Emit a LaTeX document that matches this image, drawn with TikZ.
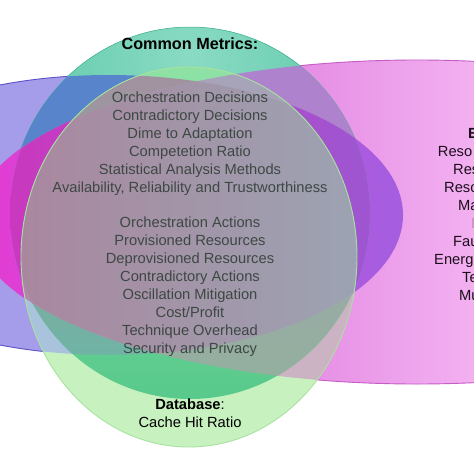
\documentclass[tikz,border=0pt]{standalone}
\usepackage{fontspec}
\setmainfont{Liberation Sans}
\definecolor{cA}{HTML}{A59DE9}
\definecolor{cBl}{HTML}{E283E1}
\definecolor{cBr}{HTML}{F3B2F1}
\definecolor{cTin}{HTML}{8ADBC3}
\definecolor{cTout}{HTML}{4FC3A0}
\definecolor{cG}{HTML}{C8F1C0}
\definecolor{cABl}{HTML}{E23DD3}
\definecolor{cABr}{HTML}{A35FE0}
\definecolor{cAT}{HTML}{5784CB}
\definecolor{cAG}{HTML}{A9C3DC}
\definecolor{cBT}{HTML}{AF82CD}
\definecolor{cBG}{HTML}{CBB3C3}
\definecolor{cTGt}{HTML}{8FE2A5}
\definecolor{cTGb}{HTML}{57C98B}
\definecolor{cATGt}{HTML}{A3919F}
\definecolor{cATGb}{HTML}{6FB4A4}
\definecolor{cBTGt}{HTML}{A8A2BB}
\definecolor{cBTGb}{HTML}{92B09C}
\definecolor{cABG}{HTML}{B08AA8}
\definecolor{cCl}{HTML}{A9879F}
\definecolor{cCr}{HTML}{9CA3B2}
\definecolor{txtc}{HTML}{3D4843}
\definecolor{rtxt}{HTML}{1C0F1C}
\definecolor{lnA}{HTML}{5A50C8}
\definecolor{lnB}{HTML}{C65CC6}
\definecolor{lnT}{HTML}{44B090}
\definecolor{lnG}{HTML}{A8E2A0}
\begin{document}
\begin{tikzpicture}[x=1pt,y=-1pt,
  lbl/.style={inner sep=0pt, anchor=base, text=txtc, font=\fontsize{14.7}{18}\selectfont},
  blk/.style={inner sep=0pt, anchor=base, text=black, font=\fontsize{14.7}{18}\selectfont},
  ttl/.style={inner sep=0pt, anchor=base, text=black, font=\bfseries\fontsize{16.2}{19}\selectfont},
  rlbl/.style={inner sep=0pt, anchor=base west, text=rtxt, font=\fontsize{14.7}{18}\selectfont},
  edgeline/.style={line width=0.9pt}]
\def\pA{(109,215) ellipse [x radius=294, y radius=140]}
\def\pB{(417,222) ellipse [x radius=444, y radius=162]}
\def\pT{(190,213) ellipse [x radius=180, y radius=186]}
\def\pG{(189,257) ellipse [x radius=168, y radius=190]}
\useasboundingbox (0,0) rectangle (474,474);
\fill[white] (0,0) rectangle (474,474);
\clip (0,0) rectangle (474,474);
% singles, each with its outline (later fills cover the inner parts)
\fill[cA] \pA;
\draw[edgeline, lnA] \pA;
\fill[cBl] \pB;
\begin{scope}\clip \pB; \shade[left color=cBl, right color=cBr] (250,0) rectangle (480,474);\end{scope}
\draw[edgeline, lnB] \pB;
\fill[cTout] \pT;
\begin{scope}\clip \pT; \shade[inner color=cTin, outer color=cTout] (190,55) circle (250);\end{scope}
\draw[line width=0.5pt, lnT] \pT;
\fill[cG] \pG;
% pairs
\begin{scope}\clip \pA; \clip \pB; \shade[left color=cABl, right color=cABr] (-10,0) rectangle (410,474);\end{scope}
\begin{scope}\clip \pA; \clip \pT; \fill[cAT] (0,0) rectangle (474,474);\end{scope}
\begin{scope}\clip \pA; \clip \pG; \fill[cAG] (0,0) rectangle (474,474);\end{scope}
\begin{scope}\clip \pB; \clip \pT; \fill[cBT] (0,0) rectangle (474,474);\end{scope}
\begin{scope}\clip \pB; \clip \pG; \fill[cBG] (0,0) rectangle (474,474);\end{scope}
\begin{scope}\clip \pT; \clip \pG; \shade[top color=cTGt, bottom color=cTGb] (0,60) rectangle (474,405);\end{scope}
% triples
\begin{scope}\clip \pA; \clip \pB; \clip \pT; \shade[left color=cABl!90!black, right color=cABr!94!black] (-10,0) rectangle (410,474);\end{scope}
\begin{scope}\clip \pA; \clip \pB; \clip \pG; \fill[cABG] (0,0) rectangle (474,474);\end{scope}
\begin{scope}\clip \pA; \clip \pT; \clip \pG; \shade[top color=cATGt, bottom color=cATGb] (0,70) rectangle (474,356);\end{scope}
\begin{scope}\clip \pB; \clip \pT; \clip \pG; \shade[top color=cBTGt, bottom color=cBTGb] (0,65) rectangle (474,396);\end{scope}
% quadruple
\begin{scope}\clip \pA; \clip \pB; \clip \pT; \clip \pG; \shade[left color=cCl, right color=cCr] (20,0) rectangle (360,474);\end{scope}
% outline of the Database circle, visible over everything
\draw[line width=0.9pt, lnG] \pG;
% texts
\node[ttl] (title) at (190,49) {Common Metrics:};
\foreach \t [count=\i] in {Orchestration Decisions, Contradictory Decisions, Dime to Adaptation, Competetion Ratio, Statistical Analysis Methods, {Availability, Reliability and Trustworthiness}}
  \node[lbl] (cm\i) at (190,{102.3+18*(\i-1)}) {\t};
\foreach \t [count=\i] in {Orchestration Actions, Provisioned Resources, Deprovisioned Resources, Contradictory Actions, Oscillation Mitigation, Cost/Profit, Technique Overhead, Security and Privacy}
  \node[lbl] (ca\i) at (190,{227.7+18*(\i-1)}) {\t};
\node[blk] (db) at (190,409) {\textbf{Database}:};
\node[blk] (dbm) at (190,427) {Cache Hit Ratio};
\node[rlbl, font=\bfseries\fontsize{14.7}{18}\selectfont] (r0) at (468,138) {E};
\node[rlbl] (r1) at (437.7,156) {Reso};
\node[rlbl] (r2) at (453,174) {Res};
\node[rlbl] (r3) at (444,192) {Reso};
\node[rlbl] (r4) at (458,210) {Ma};
\node[rlbl, text=rtxt!25!cBr] (r5) at (471,228) {I};
\node[rlbl] (r6) at (453,246) {Fau};
\node[rlbl] (r7) at (434,264) {Energ};
\node[rlbl] (r8) at (462,282) {Te};
\node[rlbl] (r9) at (459,300) {Mu};
\end{tikzpicture}
\end{document}
